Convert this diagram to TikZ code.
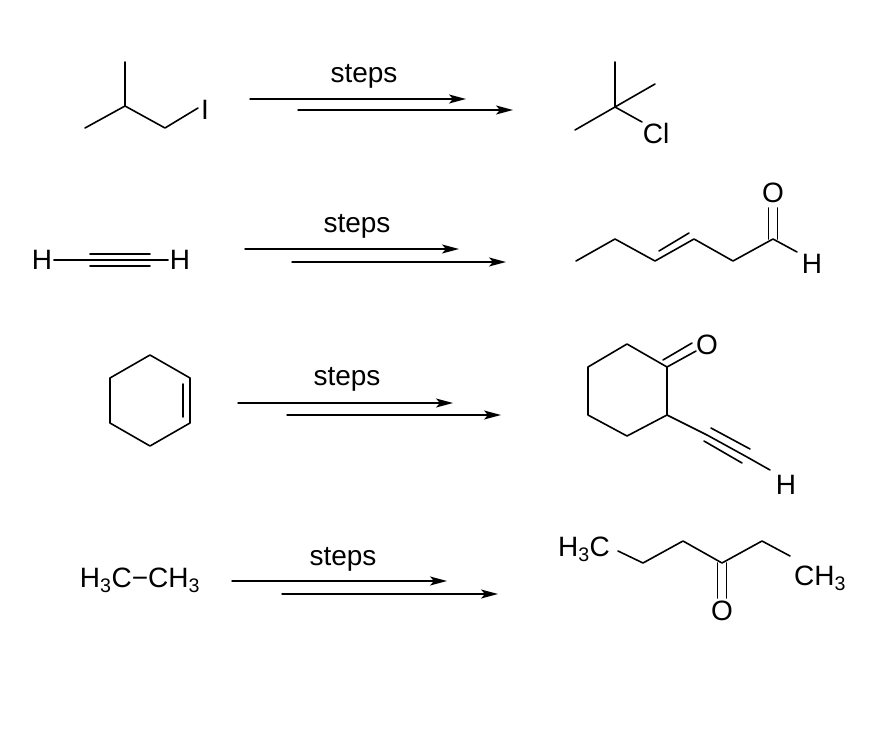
\documentclass[tikz,border=0pt]{standalone}
\usepackage{fontspec}
\setmainfont{Liberation Sans}
\usetikzlibrary{arrows.meta}
\begin{document}
\begin{tikzpicture}[x=1pt,y=-1pt,line width=1.6pt,line cap=round,line join=round,
  atom/.style={inner sep=1pt,font=\fontsize{28}{30}\selectfont},
  lbl/.style={inner sep=0pt,font=\fontsize{28}{30}\selectfont},
  arr/.style={-{Stealth[length=17pt,width=9pt,inset=4pt]},line width=1.5pt}]
\useasboundingbox (0,0) rectangle (888,749);
% ---- row 1
\coordinate (a1) at (85,128); \coordinate (a2) at (125,106); \coordinate (a3) at (125,62);
\coordinate (a4) at (165,128); \coordinate (a5) at (198,108);
\node[atom] (aI) at (205,110) {I};
\draw (a1)--(a2)--(a3) (a2)--(a4)--(a5);
\coordinate (r1s) at (250,99); \coordinate (r1e) at (466,99);
\coordinate (r1s2) at (298,110); \coordinate (r1e2) at (513,110);
\draw[arr] (r1s)--(r1e); \draw[arr] (r1s2)--(r1e2);
\node[lbl] (s1) at (364,76) {steps};
\coordinate (b1) at (615,107); \coordinate (b2) at (615,62); \coordinate (b3) at (655,84); \coordinate (b4) at (575,130);
\node[atom] (bCl) at (656,133) {Cl};
\coordinate (b5) at (642,122);
\draw (b1)--(b2) (b1)--(b3) (b1)--(b4) (b1)--(b5);
% ---- row 2
\node[atom] (h1) at (42,260) {H}; \node[atom] (h2) at (180,260) {H};
\coordinate (t1) at (90,260); \coordinate (t2) at (150,260);
\draw (h1.east)--(t1) (t2)--(h2.west);
\draw (t1)--(t2) ([yshift=-6]t1)--([yshift=-6]t2) ([yshift=6]t1)--([yshift=6]t2);
\coordinate (r2s) at (245,249); \coordinate (r2e) at (459,249);
\coordinate (r2s2) at (292,262); \coordinate (r2e2) at (506,262);
\draw[arr] (r2s)--(r2e); \draw[arr] (r2s2)--(r2e2);
\node[lbl] (s2) at (357,226) {steps};
\coordinate (c1) at (576,261); \coordinate (c2) at (615,239); \coordinate (c3) at (655,261);
\coordinate (c4) at (694,239); \coordinate (c5) at (733,261); \coordinate (c6) at (773,239);
\coordinate (c7) at (797,252);
\node[atom] (cH) at (812,264) {H}; \node[atom] (cO) at (773,193) {O};
\draw (c1)--(c2)--(c3)--(c4)--(c5)--(c6)--(c7);
\draw (659,251)--(689,233);
\draw (768.5,239)--(768.5,208) (777.5,239)--(777.5,208);
% ---- row 3
\coordinate (d1) at (150,355); \coordinate (d2) at (190,378); \coordinate (d3) at (190,423);
\coordinate (d4) at (150,446); \coordinate (d5) at (110,423); \coordinate (d6) at (110,378);
\draw (d1)--(d2)--(d3)--(d4)--(d5)--(d6)--cycle;
\draw (183,384)--(183,417);
\coordinate (r3s) at (238,403); \coordinate (r3e) at (453,403);
\coordinate (r3s2) at (287,415); \coordinate (r3e2) at (501,415);
\draw[arr] (r3s)--(r3e); \draw[arr] (r3s2)--(r3e2);
\node[lbl] (s3) at (347,379) {steps};
\coordinate (e1) at (627,344); \coordinate (e2) at (667,367); \coordinate (e3) at (667,415);
\coordinate (e4) at (627,436); \coordinate (e5) at (588,415); \coordinate (e6) at (588,367);
\draw (e1)--(e2)--(e3)--(e4)--(e5)--(e6)--cycle;
\node[atom] (eO) at (707,345) {O};
\draw (667,367)--(696,351) (663,360)--(692,343);
\coordinate (e7) at (707,435); \coordinate (e8) at (747,457); \coordinate (e9) at (770,470);
\node[atom] (eH) at (786,485) {H};
\draw (e3)--(e7) (e7)--(e8) (e8)--(e9);
\draw (704,441)--(742,463) (711,428)--(750,449);
% ---- row 4
\node[lbl] (f0) at (140,580) {H\textsubscript{3}C−CH\textsubscript{3}};
\coordinate (r4s) at (232,581); \coordinate (r4e) at (447,581);
\coordinate (r4s2) at (282,594); \coordinate (r4e2) at (498,594);
\draw[arr] (r4s)--(r4e); \draw[arr] (r4s2)--(r4e2);
\node[lbl] (s4) at (343,559) {steps};
\node[lbl] (gA) at (584,549) {H\textsubscript{3}C};
\node[lbl] (gB) at (820,578) {CH\textsubscript{3}};
\coordinate (g1) at (618,551); \coordinate (g2) at (643,563); \coordinate (g3) at (683,541);
\coordinate (g4) at (722,563); \coordinate (g5) at (762,541); \coordinate (g6) at (790,556);
\node[atom] (gO) at (722,611) {O};
\draw (g1)--(g2)--(g3)--(g4)--(g5)--(g6);
\draw (717.5,563)--(717.5,598) (726.5,563)--(726.5,598);
\end{tikzpicture}
\end{document}
